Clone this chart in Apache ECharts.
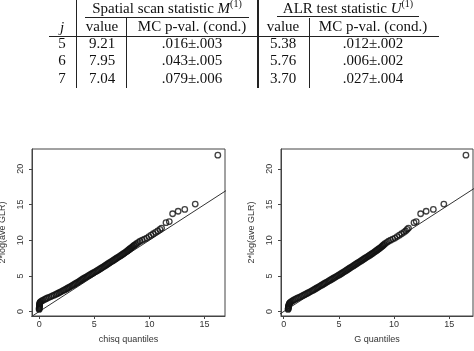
<!DOCTYPE html>
<html>
<head>
<meta charset="utf-8">
<script src="https://cdn.jsdelivr.net/npm/echarts@6/dist/echarts.min.js"></script>
<style>
  html, body { margin: 0; padding: 0; background: #fff; }
  #qqPlots { width: 474px; height: 351px; }
</style>
</head>
<body>
<div id="qqPlots"></div>
<script>
  // table values
  const tableJ = ['5', '6', '7'];
  const scanValue = ['9.21', '7.95', '7.04'];
  const scanPval = ['.016\u00b1.003', '.043\u00b1.005', '.079\u00b1.006'];
  const alrValue = ['5.38', '5.76', '3.70'];
  const alrPval = ['.012\u00b1.002', '.006\u00b1.002', '.027\u00b1.004'];

  // sorted 2*log(ave GLR), shared by both qq plots
  const glrValues = [
    0.3, 0.4, 0.5, 0.6, 0.7, 0.8, 0.9, 1.0, 1.1, 1.2,
    1.3, 1.4, 1.5, 1.6, 1.7, 1.8, 1.9, 2.0,
    2.1, 2.2, 2.3, 2.4, 2.5, 2.6, 2.7, 2.8, 2.9, 3.0,
    3.1, 3.2, 3.3, 3.4, 3.5, 3.6, 3.7, 3.8, 3.9, 4.0,
    4.1, 4.2, 4.3, 4.4, 4.5, 4.6, 4.7, 4.8, 4.9, 5.0,
    5.1, 5.2, 5.3, 5.4, 5.5, 5.6, 5.7, 5.8, 5.9, 6.0,
    6.1, 6.2, 6.3, 6.4, 6.5, 6.6, 6.7, 6.8, 6.9, 7.0,
    7.1, 7.2, 7.3, 7.4, 7.5, 7.6, 7.7, 7.8, 7.9, 8.0,
    8.1, 8.2, 8.3, 8.4, 8.5, 8.6, 8.7, 8.8, 8.9, 9.0,
    9.1, 9.2, 9.3,
    9.4, 9.55, 9.7, 9.85, 10.0, 10.15, 10.3, 10.5, 10.7, 10.9,
    11.1, 11.3, 11.5, 11.7, 12.45, 12.6, 13.7, 14.05, 14.3, 15.05, 21.9
  ];
  const chisqQuantiles = [
    0.00, 0.00, 0.01, 0.01, 0.02, 0.02, 0.03, 0.04, 0.05, 0.06,
    0.09, 0.15, 0.25, 0.36, 0.50, 0.62, 0.75, 0.90,
    1.06, 1.20, 1.35, 1.50, 1.63, 1.76, 1.88, 2.00, 2.13, 2.25,
    2.38, 2.50, 2.61, 2.72, 2.83, 2.95, 3.06, 3.17, 3.28, 3.39,
    3.50, 3.60, 3.70, 3.80, 3.90, 4.00, 4.11, 4.22, 4.33, 4.44,
    4.55, 4.66, 4.77, 4.89, 5.00, 5.11, 5.22, 5.33, 5.44, 5.55,
    5.65, 5.75, 5.85, 5.95, 6.05, 6.15, 6.25, 6.35, 6.45, 6.55,
    6.65, 6.75, 6.85, 6.95, 7.05, 7.15, 7.25, 7.35, 7.45, 7.55,
    7.64, 7.73, 7.82, 7.91, 8.00, 8.08, 8.16, 8.24, 8.32, 8.40,
    8.48, 8.56, 8.64,
    8.75, 8.85, 9.0, 9.15, 9.35, 9.55, 9.75, 9.95, 10.15, 10.35,
    10.55, 10.75, 10.95, 11.1, 11.5, 11.8, 12.1, 12.6, 13.2, 14.15, 16.2
  ];
  const gQuantiles = [
    0.40, 0.41, 0.42, 0.43, 0.44, 0.45, 0.47, 0.49, 0.52, 0.56,
    0.62, 0.70, 0.80, 0.90, 1.02, 1.15, 1.28, 1.42,
    1.55, 1.68, 1.81, 1.94, 2.07, 2.19, 2.31, 2.43, 2.55, 2.67,
    2.78, 2.89, 3.00, 3.11, 3.22, 3.33, 3.44, 3.55, 3.66, 3.77,
    3.88, 3.99, 4.10, 4.21, 4.32, 4.43, 4.54, 4.65, 4.76, 4.87,
    4.98, 5.09, 5.20, 5.30, 5.40, 5.50, 5.60, 5.70, 5.80, 5.90,
    6.00, 6.10, 6.20, 6.30, 6.40, 6.50, 6.60, 6.70, 6.80, 6.90,
    7.00, 7.10, 7.20, 7.30, 7.40, 7.50, 7.60, 7.70, 7.80, 7.90,
    8.00, 8.09, 8.18, 8.27, 8.36, 8.45, 8.54, 8.63, 8.72, 8.80,
    8.88, 8.95, 9.02,
    9.10, 9.20, 9.35, 9.50, 9.68, 9.88, 10.08, 10.28, 10.48, 10.68,
    10.88, 11.04, 11.18, 11.3, 11.8, 12.0, 12.4, 12.9, 13.55, 14.5, 16.5
  ];
  // reference line y = x
  const refLine = [[-2, -2], [20, 20]];

  const xTicks = [0, 5, 10, 15];
  const yTicks = [0, 5, 10, 15, 20];

  let myChart = echarts.init(document.getElementById('qqPlots'));

  const serif = '"Liberation Serif", "DejaVu Serif", serif';
  const sans = '"Liberation Sans", Arial, sans-serif';

  // table drawn with graphic elements
  const colX = [62, 102, 192, 283, 373];
  const rowY = [44, 61, 79];
  let graphics = [];
  function txt(s, x, y, extra) {
    graphics.push({
      type: 'text', x: x, y: y, silent: true,
      style: Object.assign({
        text: s, fill: '#111', font: '15px ' + serif,
        textAlign: 'center', textVerticalAlign: 'middle'
      }, extra || {})
    });
  }
  function ln(x1, y1, x2, y2, w) {
    graphics.push({
      type: 'line', silent: true,
      shape: {x1: x1, y1: y1, x2: x2, y2: y2},
      style: {stroke: '#222', lineWidth: w || 1}
    });
  }
  const richHead = {
    n: {fontFamily: serif, fontSize: 15, color: '#111', verticalAlign: 'bottom', lineHeight: 17},
    i: {fontFamily: serif, fontSize: 15, fontStyle: 'italic', color: '#111', verticalAlign: 'bottom', lineHeight: 17},
    s: {fontFamily: serif, fontSize: 10, color: '#111', verticalAlign: 'top', lineHeight: 17}
  };
  txt('{n|Spatial scan statistic }{i|M}{s|(1)}', 167, 8, {rich: richHead});
  txt('{n|ALR test statistic }{i|U}{s|(1)}', 348, 8, {rich: richHead});
  txt('j', colX[0], 28, {font: 'italic 15px ' + serif});
  txt('value', colX[1], 27);
  txt('MC p-val. (cond.)', colX[2], 27);
  txt('value', colX[3], 27);
  txt('MC p-val. (cond.)', colX[4], 27);
  tableJ.forEach((j, k) => {
    txt(j, colX[0], rowY[k]);
    txt(scanValue[k], colX[1], rowY[k]);
    txt(scanPval[k], colX[2], rowY[k]);
    txt(alrValue[k], colX[3], rowY[k]);
    txt(alrPval[k], colX[4], rowY[k]);
  });
  ln(85, 17.5, 249, 17.5);
  ln(277, 16.5, 419, 16.5);
  ln(49, 36.5, 439, 36.5);
  ln(76.5, 0, 76.5, 88);
  ln(126.5, 18, 126.5, 88);
  ln(258, 0, 258, 88, 2);
  ln(309.5, 18, 309.5, 88);

  function xAxisOpt(idx, name, min, max) {
    return {
      type: 'value', gridIndex: idx, min: min, max: max,
      name: name, nameLocation: 'middle', nameGap: 19,
      nameTextStyle: {color: '#333', fontSize: 9, fontFamily: sans},
      axisLine: {show: true, onZero: false, lineStyle: {color: '#444', width: 1}},
      axisTick: {show: true, length: 3, customValues: xTicks, lineStyle: {color: '#444'}},
      axisLabel: {customValues: xTicks, color: '#333', fontSize: 9, fontFamily: sans, margin: 4},
      splitLine: {show: false}
    };
  }
  function yAxisOpt(idx) {
    return {
      type: 'value', gridIndex: idx, min: -0.62, max: 22.77,
      name: '2*log(ave GLR)', nameLocation: 'middle', nameGap: 25, nameRotate: 90,
      nameTextStyle: {color: '#333', fontSize: 9, fontFamily: sans},
      axisLine: {show: true, onZero: false, lineStyle: {color: '#444', width: 1}},
      axisTick: {show: true, length: 3, customValues: yTicks, lineStyle: {color: '#444'}},
      axisLabel: {customValues: yTicks, rotate: 90, color: '#333', fontSize: 9, fontFamily: sans, margin: 7},
      splitLine: {show: false}
    };
  }
  function pointSeries(idx, xs) {
    return {
      type: 'scatter', xAxisIndex: idx, yAxisIndex: idx,
      symbol: 'circle', symbolSize: 5.5, silent: true,
      itemStyle: {color: 'rgba(0,0,0,0)', borderColor: '#111', borderWidth: 1.3},
      data: xs.map((x, k) => [x, glrValues[k]]),
      z: 3
    };
  }
  function lineSeries(idx) {
    return {
      type: 'line', xAxisIndex: idx, yAxisIndex: idx, clip: true,
      symbol: 'none', silent: true,
      lineStyle: {color: '#333', width: 1},
      data: refLine, z: 2
    };
  }

  myChart.setOption({
    animation: false,
    backgroundColor: '#fff',
    graphic: graphics,
    grid: [
      {left: 32, top: 149, width: 193, height: 167, outerBoundsMode: 'none', show: true, borderColor: '#444', borderWidth: 1, backgroundColor: 'transparent'},
      {left: 281, top: 149, width: 192, height: 167, outerBoundsMode: 'none', show: true, borderColor: '#444', borderWidth: 1, backgroundColor: 'transparent'}
    ],
    xAxis: [
      xAxisOpt(0, 'chisq quantiles', -0.65, 16.85),
      xAxisOpt(1, 'G quantiles', -0.24, 17.14)
    ],
    yAxis: [yAxisOpt(0), yAxisOpt(1)],
    series: [
      lineSeries(0), pointSeries(0, chisqQuantiles),
      lineSeries(1), pointSeries(1, gQuantiles)
    ]
  });

  window.addEventListener('resize', () => {
    myChart.resize();
  });
</script>
</body>
</html>
